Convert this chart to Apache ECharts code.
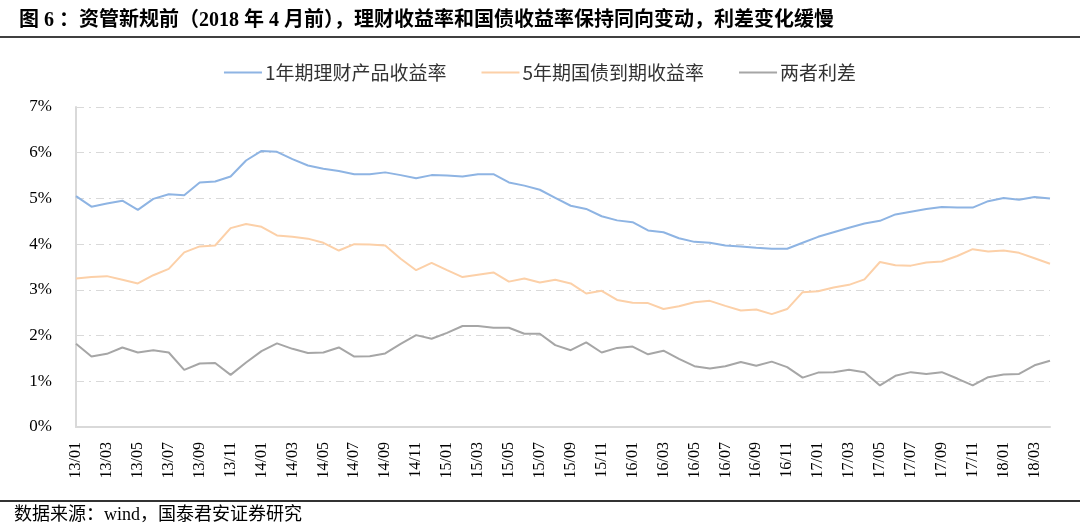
<!DOCTYPE html>
<html>
<head>
<meta charset="utf-8">
<script src="https://cdn.jsdelivr.net/npm/echarts@6/dist/echarts.min.js"></script>
<style>
html,body{margin:0;padding:0;background:#fff;}
#chart{width:1080px;height:530px;}
</style>
</head>
<body>
<div id="chart"></div>
<script>
var months = ['13/01','13/02','13/03','13/04','13/05','13/06','13/07','13/08','13/09','13/10','13/11','13/12',
'14/01','14/02','14/03','14/04','14/05','14/06','14/07','14/08','14/09','14/10','14/11','14/12',
'15/01','15/02','15/03','15/04','15/05','15/06','15/07','15/08','15/09','15/10','15/11','15/12',
'16/01','16/02','16/03','16/04','16/05','16/06','16/07','16/08','16/09','16/10','16/11','16/12',
'17/01','17/02','17/03','17/04','17/05','17/06','17/07','17/08','17/09','17/10','17/11','17/12',
'18/01','18/02','18/03','18/04'];

var wealthYield = [5.05,4.82,4.89,4.95,4.75,4.99,5.09,5.07,5.35,5.37,5.48,5.83,
6.04,6.02,5.86,5.72,5.65,5.60,5.53,5.53,5.57,5.51,5.44,5.51,
5.50,5.48,5.53,5.53,5.35,5.28,5.19,5.01,4.84,4.77,4.61,4.52,
4.48,4.30,4.26,4.13,4.05,4.03,3.97,3.95,3.92,3.90,3.90,4.03,
4.16,4.26,4.36,4.45,4.51,4.65,4.71,4.77,4.81,4.80,4.80,4.94,
5.01,4.97,5.03,5.00];

var bondYield = [3.25,3.28,3.30,3.22,3.14,3.32,3.46,3.82,3.95,3.97,4.35,4.44,
4.38,4.19,4.16,4.12,4.03,3.86,4.00,3.99,3.97,3.68,3.43,3.59,
3.43,3.28,3.33,3.38,3.18,3.25,3.16,3.22,3.14,2.92,2.98,2.78,
2.72,2.71,2.58,2.64,2.73,2.76,2.65,2.55,2.57,2.47,2.58,2.95,
2.97,3.05,3.11,3.23,3.61,3.54,3.53,3.60,3.62,3.74,3.89,3.84,
3.86,3.81,3.69,3.57];

var spread = [1.82,1.54,1.60,1.74,1.63,1.68,1.63,1.25,1.39,1.40,1.14,1.41,
1.66,1.83,1.71,1.62,1.63,1.74,1.54,1.55,1.61,1.82,2.01,1.93,
2.06,2.21,2.21,2.17,2.17,2.04,2.04,1.79,1.68,1.85,1.63,1.73,
1.76,1.59,1.67,1.49,1.33,1.28,1.33,1.42,1.34,1.43,1.31,1.08,
1.19,1.20,1.25,1.20,0.91,1.12,1.20,1.16,1.20,1.06,0.91,1.09,
1.15,1.16,1.35,1.45];

var seriesNames = ['1年期理财产品收益率','5年期国债到期收益率','两者利差'];
var titleText = '图 6 ：资管新规前（2018 年 4 月前），理财收益率和国债收益率保持同向变动，利差变化缓慢';
var sourceText = '数据来源：wind，国泰君安证券研究';

var chart = echarts.init(document.getElementById('chart'));
var serif = '"Liberation Serif","Noto Sans CJK SC",serif';
var sans = '"Noto Sans CJK SC","Liberation Sans",sans-serif';

chart.setOption({
  animation: false,
  backgroundColor: '#fff',
  color: ['#8EB4E3','#FCD0A8','#A6A6A6'],
  title: {
    text: titleText,
    left: 14, top: 6,
    textStyle: {fontFamily: serif, fontSize: 20, fontWeight: 'bold', color: '#000'}
  },
  legend: {
    top: 58, left: 'center',
    itemWidth: 38, itemHeight: 2, itemGap: 35,
    icon: 'rect',
    textStyle: {fontFamily: sans, fontSize: 19, color: '#333', padding: [0,0,0,-2]},
    data: seriesNames
  },
  grid: {left: 76, right: 30, top: 107, bottom: 103, containLabel: false},
  xAxis: {
    type: 'category',
    data: months,
    boundaryGap: false,
    axisLine: {lineStyle: {color: '#D9D9D9', width: 2}},
    axisTick: {show: false},
    axisLabel: {rotate: 90, interval: 1, margin: 15, fontFamily: serif, fontSize: 16, color: '#000'},
    splitLine: {show: false}
  },
  yAxis: {
    type: 'value',
    min: 0, max: 7, interval: 1,
    axisLine: {show: true, lineStyle: {color: '#D9D9D9', width: 2}},
    axisTick: {show: false},
    axisLabel: {formatter: '{value}%', margin: 24, fontFamily: serif, fontSize: 17, color: '#000'},
    splitLine: {show: true, lineStyle: {color: '#D9D9D9', width: 1, type: [8,5,2,5]}}
  },
  graphic: [
    {type: 'line', shape: {x1: 0, y1: 37, x2: 1080, y2: 37}, style: {stroke: '#000', lineWidth: 1.5}},
    {type: 'line', shape: {x1: 0, y1: 501, x2: 1080, y2: 501}, style: {stroke: '#333', lineWidth: 2}},
    {type: 'text', left: 14, top: 506, style: {text: sourceText, fontFamily: serif, fontSize: 18, fill: '#000'}}
  ],
  series: [
    {name: seriesNames[0], type: 'line', data: wealthYield, symbol: 'none', lineStyle: {width: 2}},
    {name: seriesNames[1], type: 'line', data: bondYield, symbol: 'none', lineStyle: {width: 2}},
    {name: seriesNames[2], type: 'line', data: spread, symbol: 'none', lineStyle: {width: 2}}
  ]
});
</script>
</body>
</html>
